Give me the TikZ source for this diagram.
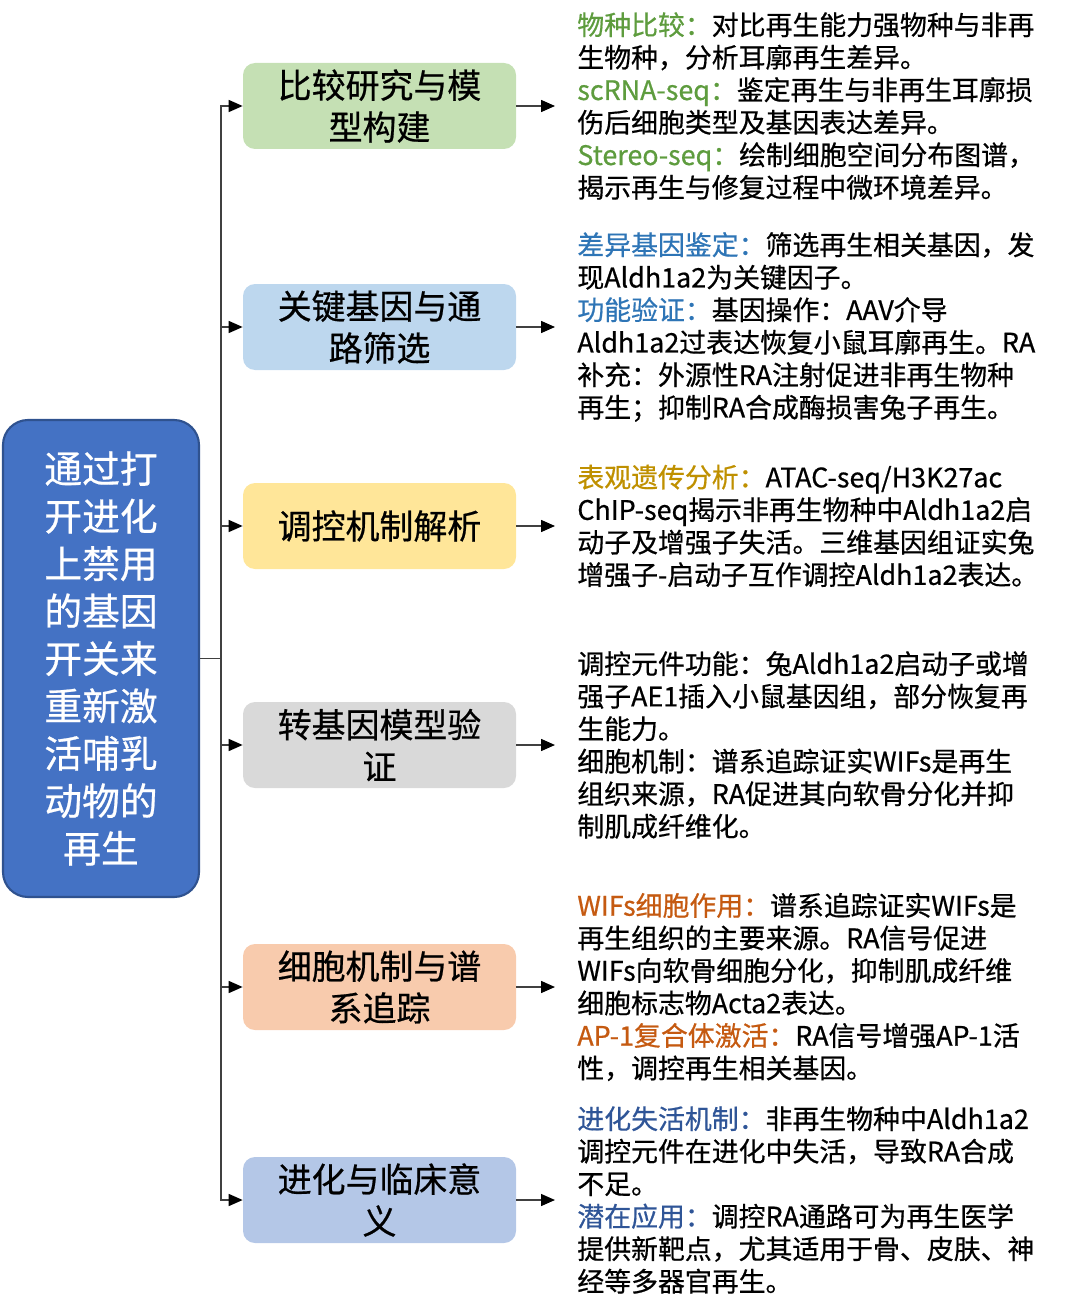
\documentclass[tikz,border=0pt]{standalone}
\usepackage{fontspec}
\newfontfamily\cjk{Noto Sans CJK SC}[FakeBold=0.6]
\usetikzlibrary{arrows.meta}
\definecolor{mainBlue}{HTML}{4472C4}
\definecolor{mainEdge}{HTML}{2F528F}
\definecolor{bxGreen}{HTML}{C5E0B4}
\definecolor{bxBlue}{HTML}{BDD7EE}
\definecolor{bxYellow}{HTML}{FFE699}
\definecolor{bxGray}{HTML}{D9D9D9}
\definecolor{bxOrange}{HTML}{F8CBAD}
\definecolor{bxPeri}{HTML}{B4C7E7}
\definecolor{lbGreen}{HTML}{5E9C3E}
\definecolor{lbBlue}{HTML}{2E75B6}
\definecolor{lbGold}{HTML}{BF9000}
\definecolor{lbOrange}{HTML}{C55A11}
\definecolor{lbNavy}{HTML}{2F5597}
\definecolor{lnGray}{HTML}{404040}

\begin{document}
\begin{tikzpicture}[font=\cjk,
      s/.style={rounded corners=0.24cm,minimum height=1.72cm,minimum width=5.46cm,
                align=center,inner sep=0pt,font=\cjk\fontsize{19.3}{23.8}\selectfont},
      d/.style={anchor=west,align=left,inner xsep=0.44cm,inner ysep=0pt,
                font=\cjk\fontsize{15.3}{18.5}\selectfont},
      a/.style={-{Triangle[length=0.28cm,width=0.24cm,color=black]},lnGray,line width=0.85pt}]
    \useasboundingbox (0,0) rectangle (21.6,-26.3);

    \node[draw=mainEdge,fill=mainBlue,line width=1.2pt,rounded corners=0.5cm,
          minimum width=3.92cm,minimum height=9.54cm,align=center,text=white,
          font=\cjk\fontsize{21.5}{27}\selectfont] (main) at (2.02,-13.17)
          {通过打\\开进化\\上禁用\\的基因\\开关来\\重新激\\活哺乳\\动物的\\再生};
    \coordinate (trunk) at (4.42,-13.17);

    \node[s,fill=bxGreen]  (b1) at (7.59,-2.12)  {比较研究与模\\型构建};
    \node[s,fill=bxBlue]   (b2) at (7.59,-6.54)  {关键基因与通\\路筛选};
    \node[s,fill=bxYellow] (b3) at (7.59,-10.52) {调控机制解析};
    \node[s,fill=bxGray]   (b4) at (7.59,-14.90) {转基因模型验\\证};
    \node[s,fill=bxOrange] (b5) at (7.59,-19.74) {细胞机制与谱\\系追踪};
    \node[s,fill=bxPeri]   (b6) at (7.59,-24.00) {进化与临床意\\义};

    \node[d] (t1) at (11.1,-2.12)  {{\color{lbGreen}物种比较：}对比再生能力强物种与非再\\生物种，分析耳廓再生差异。\\{\color{lbGreen}scRNA-seq：}鉴定再生与非再生耳廓损\\伤后细胞类型及基因表达差异。\\{\color{lbGreen}Stereo-seq：}绘制细胞空间分布图谱，\\揭示再生与修复过程中微环境差异。};
    \node[d] (t2) at (11.1,-6.54)  {{\color{lbBlue}差异基因鉴定：}筛选再生相关基因，发\\现Aldh1a2为关键因子。\\{\color{lbBlue}功能验证：}基因操作：AAV介导\\Aldh1a2过表达恢复小鼠耳廓再生。RA\\补充：外源性RA注射促进非再生物种\\再生；抑制RA合成酶损害兔子再生。};
    \node[d] (t3) at (11.1,-10.52) {{\color{lbGold}表观遗传分析：}ATAC-seq/H3K27ac\\ChIP-seq揭示非再生物种中Aldh1a2启\\动子及增强子失活。三维基因组证实兔\\增强子-启动子互作调控Aldh1a2表达。};
    \node[d] (t4) at (11.1,-14.90) {调控元件功能：兔Aldh1a2启动子或增\\强子AE1插入小鼠基因组，部分恢复再\\生能力。\\细胞机制：谱系追踪证实WIFs是再生\\组织来源，RA促进其向软骨分化并抑\\制肌成纤维化。};
    \node[d] (t5) at (11.1,-19.74) {{\color{lbOrange}WIFs细胞作用：}谱系追踪证实WIFs是\\再生组织的主要来源。RA信号促进\\WIFs向软骨细胞分化，抑制肌成纤维\\细胞标志物Acta2表达。\\{\color{lbOrange}AP-1复合体激活：}RA信号增强AP-1活\\性，调控再生相关基因。};
    \node[d] (t6) at (11.1,-24.00) {{\color{lbNavy}进化失活机制：}非再生物种中Aldh1a2\\调控元件在进化中失活，导致RA合成\\不足。\\{\color{lbNavy}潜在应用：}调控RA通路可为再生医学\\提供新靶点，尤其适用于骨、皮肤、神\\经等多器官再生。};

    \draw[lnGray,line width=0.85pt] (main.east) -- (trunk);
    \foreach \i in {1,...,6} {
      \draw[a] (trunk) |- (b\i.west);
      \draw[a] (b\i.east) -- (t\i.west);
    }
  \end{tikzpicture}
\end{document}
